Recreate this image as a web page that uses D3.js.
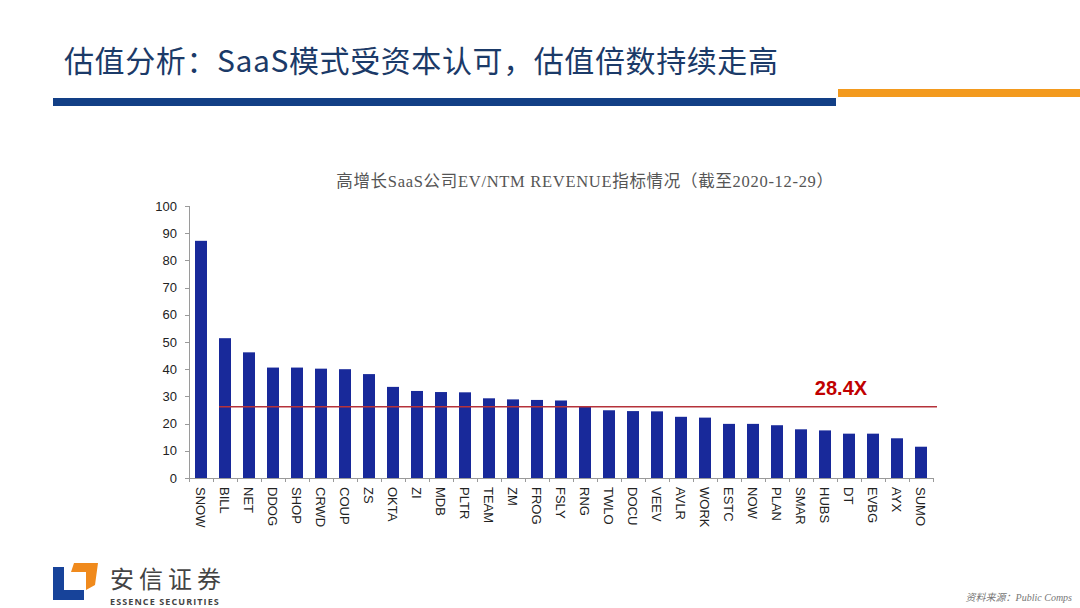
<!doctype html>
<html lang="zh">
<head>
<meta charset="utf-8">
<title>SaaS EV/NTM Revenue</title>
<style>
  body { margin: 0; background: #fff; }
  #chart { width: 1080px; height: 608px; }
  .y-axis path, .y-axis line, .x-axis path, .x-axis line { stroke: #9a9a9a; shape-rendering: crispEdges; }
  .y-axis text, .x-axis text { font-family: "Liberation Sans", Arial, sans-serif; font-size: 13px; fill: #222; }
</style>
</head>
<body>
<div id="chart"></div>
<script src="https://d3js.org/d3.v7.min.js"></script>
<script>
var companies = ['SNOW','BILL','NET','DDOG','SHOP','CRWD','COUP','ZS','OKTA','ZI','MDB','PLTR','TEAM','ZM','FROG',
                 'FSLY','RNG','TWLO','DOCU','VEEV','AVLR','WORK','ESTC','NOW','PLAN','SMAR','HUBS','DT','EVBG','AYX','SUMO'];
var multiples = [87.2,51.4,46.2,40.6,40.6,40.2,40.0,38.2,33.5,32.0,31.6,31.5,29.3,28.9,28.7,
                 28.5,26.1,24.9,24.6,24.5,22.5,22.2,19.9,19.9,19.4,17.9,17.5,16.3,16.3,14.6,11.5];
var yTicks = [0,10,20,30,40,50,60,70,80,90,100];
var refLine = 26.2;
var refLabel = '28.4X';

var width = 1080, height = 608;
var svg = d3.select('#chart').append('svg').attr('width', width).attr('height', height);

// header
svg.append('text')
  .attr('x', 64).attr('y', 72)
  .attr('font-family', '"Noto Sans CJK SC", sans-serif')
  .attr('font-size', 30)
  .attr('letter-spacing', 0.6)
  .attr('fill', '#1b3a68')
  .text('估值分析：SaaS模式受资本认可，估值倍数持续走高');
svg.append('rect').attr('x', 53).attr('y', 98).attr('width', 783).attr('height', 8).attr('fill', '#123f86');
svg.append('rect').attr('x', 838).attr('y', 89).attr('width', 242).attr('height', 8).attr('fill', '#f39a1e');

// chart title
svg.append('text')
  .attr('x', 585).attr('y', 187)
  .attr('text-anchor', 'middle')
  .attr('font-family', '"Liberation Serif", "Noto Sans CJK SC", serif')
  .attr('font-size', 16.5)
  .attr('letter-spacing', 0.7)
  .attr('fill', '#555')
  .text('高增长SaaS公司EV/NTM REVENUE指标情况（截至2020-12-29）');

var x = d3.scaleBand().domain(companies).range([189, 933]).paddingInner(0.5).paddingOuter(0.25);
var y = d3.scaleLinear().domain([0, 100]).range([478, 206]);

var yaxis = d3.axisLeft(y).tickValues(yTicks).tickSize(4).tickPadding(8);
svg.append('g').attr('class', 'y-axis')
  .attr('transform', 'translate(189,0)')
  .call(yaxis);

svg.selectAll('rect.bar')
  .data(companies)
  .enter()
  .append('rect')
  .attr('class', 'bar')
  .attr('x', function(d){ return x(d); })
  .attr('y', function(d, i){ return y(multiples[i]); })
  .attr('width', x.bandwidth())
  .attr('height', function(d, i){ return y(0) - y(multiples[i]); })
  .attr('fill', '#18299a');

var xaxis = d3.axisBottom(x).tickSize(0).tickPadding(9);
var gx = svg.append('g').attr('class', 'x-axis')
  .attr('transform', 'translate(0,' + y(0) + ')')
  .call(xaxis);
gx.selectAll('text')
  .attr('transform', 'rotate(90)')
  .attr('text-anchor', 'start')
  .attr('dy', '0.35em')
  .attr('x', 9).attr('y', 0);

// small ticks between categories
var step = x.step();
svg.append('g').selectAll('line')
  .data(d3.range(companies.length + 1))
  .enter()
  .append('line')
  .attr('x1', function(i){ return 189 + i * step; })
  .attr('x2', function(i){ return 189 + i * step; })
  .attr('y1', y(0)).attr('y2', y(0) + 4)
  .attr('stroke', '#9a9a9a')
  .attr('shape-rendering', 'crispEdges');

// reference line
svg.append('line')
  .attr('x1', x('BILL')).attr('x2', 937)
  .attr('y1', y(refLine)).attr('y2', y(refLine))
  .attr('stroke', '#b5323a').attr('stroke-width', 1.5);
svg.append('text')
  .attr('x', 841).attr('y', 395)
  .attr('text-anchor', 'middle')
  .attr('font-family', '"Liberation Sans", Arial, sans-serif')
  .attr('font-weight', 'bold')
  .attr('font-size', 20)
  .attr('fill', '#c00000')
  .text(refLabel);

// logo
var logo = svg.append('g');
logo.append('path').attr('d', 'M53,567 L64,567 L64,590 L84,590 L84,600 L53,600 Z').attr('fill', '#17439a');
logo.append('path').attr('d', 'M74,563 L98,563 L95,585 L86,590 L86,572 L71,572 Z').attr('fill', '#f08a1c');
logo.append('text')
  .attr('x', 110).attr('y', 588)
  .attr('font-family', '"Noto Sans CJK SC", sans-serif')
  .attr('font-size', 24)
  .attr('letter-spacing', 5)
  .attr('fill', '#444')
  .text('安信证券');
logo.append('text')
  .attr('x', 110).attr('y', 605)
  .attr('font-family', '"Open Sans", sans-serif')
  .attr('font-size', 9)
  .attr('letter-spacing', 1.1)
  .attr('font-weight', 'bold')
  .attr('fill', '#444')
  .text('ESSENCE SECURITIES');

// source
svg.append('text')
  .attr('x', 1072).attr('y', 601)
  .attr('text-anchor', 'end')
  .attr('font-family', '"Liberation Serif", "Noto Sans CJK SC", serif')
  .attr('font-style', 'italic')
  .attr('font-size', 10)
  .attr('fill', '#777')
  .text('资料来源：Public Comps');
</script>
</body>
</html>
